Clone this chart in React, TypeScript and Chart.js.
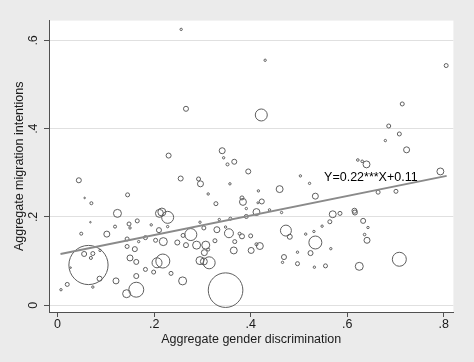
import { useEffect, useRef } from "react";
import { Chart, registerables } from "chart.js";

Chart.register(...registerables);

// Country-level observations (x = gender discrimination, y = migration intentions, weight = bubble weight)
const xValues = [
  0.256, 0.430, 0.805, 0.714, 0.266, 0.422, 0.686, 0.708, 0.679, 0.723,
  0.230, 0.341, 0.344, 0.352, 0.366, 0.395, 0.622, 0.631, 0.640, 0.793,
  0.044, 0.255, 0.292, 0.296, 0.357, 0.503, 0.522, 0.460, 0.416, 0.312,
  0.145, 0.070, 0.056, 0.328, 0.382, 0.384, 0.423, 0.415, 0.391, 0.412,
  0.439, 0.464, 0.534, 0.664, 0.701, 0.570, 0.585, 0.615, 0.616, 0.633,
  0.564, 0.548, 0.643, 0.636, 0.641, 0.534, 0.566, 0.555, 0.625, 0.708,
  0.531, 0.524, 0.532, 0.514, 0.497, 0.469, 0.466, 0.497, 0.473, 0.481,
  0.124, 0.211, 0.216, 0.228, 0.148, 0.165, 0.150, 0.068, 0.119, 0.049,
  0.102, 0.194, 0.210, 0.228, 0.144, 0.168, 0.182, 0.203, 0.219, 0.248,
  0.260, 0.266, 0.144, 0.160, 0.055, 0.073, 0.069, 0.088, 0.064, 0.150,
  0.163, 0.206, 0.218, 0.182, 0.199, 0.235, 0.163, 0.121, 0.259, 0.087,
  0.020, 0.007, 0.073, 0.163, 0.143, 0.027, 0.295, 0.335, 0.358, 0.391,
  0.276, 0.303, 0.330, 0.355, 0.348, 0.377, 0.382, 0.400, 0.367, 0.288,
  0.307, 0.326, 0.365, 0.401, 0.412, 0.419, 0.304, 0.312, 0.295, 0.303,
  0.314, 0.348,
];
const yValues = [
  0.625, 0.555, 0.543, 0.456, 0.445, 0.431, 0.406, 0.388, 0.373, 0.352,
  0.339, 0.350, 0.334, 0.319, 0.325, 0.303, 0.329, 0.326, 0.319, 0.303,
  0.283, 0.287, 0.286, 0.275, 0.275, 0.293, 0.276, 0.263, 0.259, 0.252,
  0.250, 0.231, 0.243, 0.230, 0.243, 0.234, 0.235, 0.232, 0.219, 0.211,
  0.216, 0.210, 0.247, 0.256, 0.258, 0.206, 0.208, 0.214, 0.210, 0.191,
  0.189, 0.179, 0.176, 0.160, 0.147, 0.142, 0.128, 0.089, 0.088, 0.104,
  0.167, 0.118, 0.086, 0.161, 0.120, 0.109, 0.097, 0.094, 0.169, 0.155,
  0.208, 0.208, 0.211, 0.199, 0.184, 0.191, 0.175, 0.188, 0.178, 0.162,
  0.161, 0.182, 0.170, 0.178, 0.150, 0.144, 0.153, 0.147, 0.144, 0.142,
  0.158, 0.136, 0.133, 0.127, 0.116, 0.117, 0.107, 0.124, 0.091, 0.107,
  0.098, 0.096, 0.100, 0.081, 0.075, 0.072, 0.066, 0.055, 0.055, 0.060,
  0.047, 0.035, 0.041, 0.035, 0.026, 0.085, 0.188, 0.194, 0.196, 0.201,
  0.160, 0.175, 0.171, 0.163, 0.177, 0.162, 0.156, 0.157, 0.144, 0.136,
  0.136, 0.146, 0.124, 0.124, 0.138, 0.134, 0.119, 0.126, 0.101, 0.099,
  0.096, 0.034,
];
const weights = [
  1.4, 1.4, 4, 4, 6.3, 36, 4, 4, 1.4, 9,
  6.3, 9, 1.4, 2.3, 6.3, 6.3, 1.7, 1.7, 12, 12,
  6.3, 6.3, 4, 9, 1.4, 1.4, 1.4, 12, 1.4, 1.4,
  4, 2.3, 0.6, 4, 4, 12, 6.3, 1, 1.4, 12,
  1.4, 1.4, 9, 4, 4, 12, 4, 6.3, 6.3, 6.3,
  4, 1.4, 1.4, 1.7, 9, 42, 1.4, 4, 16, 49,
  1.4, 6.3, 1.4, 1.4, 1.4, 6.3, 1.4, 4, 30, 6.3,
  16, 16, 16, 36, 4, 4, 1.4, 0.6, 2.3, 2.3,
  9, 1.4, 6.3, 1.4, 4, 1.4, 4, 4, 16, 6.3,
  4, 6.3, 4, 6.3, 6.3, 4, 2.3, 1.4, 384, 9,
  6.3, 25, 49, 4, 4, 4, 6.3, 9, 16, 6.3,
  4, 1.4, 1.4, 56, 16, 0.6, 1.4, 1.4, 2.3, 4,
  36, 4, 9, 20, 1.4, 2.3, 6.3, 4, 4, 16,
  16, 4, 12, 9, 2.3, 12, 9, 2.3, 16, 12,
  36, 299,
];

// Fitted regression line end points
const fitX = [0.006, 0.806];
const fitY = [0.116, 0.293];

const xTicks = [0, 0.2, 0.4, 0.6, 0.8];
const xTickLabels = ["0", ".2", ".4", ".6", ".8"];
const yTicks = [0, 0.2, 0.4, 0.6];
const yTickLabels = ["0", ".2", ".4", ".6"];

const xTitle = "Aggregate gender discrimination";
const yTitle = "Aggregate migration intentions";
const equation = "Y=0.22***X+0.11";
const equationAt = { x: 0.649, y: 0.2805 };

const FONT = "'Liberation Sans', Arial, Helvetica, sans-serif";
const TEXT = "#1a1a1a";
const AXIS = "#505050";

function lookup(values: number[], labels: string[], v: number) {
  const i = values.findIndex((t) => Math.abs(t - v) < 1e-9);
  return i >= 0 ? labels[i] : "";
}

export default function App() {
  const ref = useRef<HTMLCanvasElement>(null);

  useEffect(() => {
    if (!ref.current) return;

    const bgPlugin = {
      id: "bg",
      beforeDraw(chart: any) {
        const { ctx, chartArea: a, width, height } = chart;
        ctx.save();
        ctx.fillStyle = "#ebebeb";
        ctx.fillRect(0, 0, width, height);
        ctx.fillStyle = "#ffffff";
        ctx.fillRect(a.left, a.top, a.right - a.left, a.bottom - a.top);
        ctx.restore();
      },
    };

    const eqPlugin = {
      id: "eq",
      afterDatasetsDraw(chart: any) {
        const { ctx, scales } = chart;
        ctx.save();
        ctx.font = `12.5px ${FONT}`;
        ctx.fillStyle = "#000";
        ctx.textAlign = "center";
        ctx.textBaseline = "alphabetic";
        ctx.fillText(
          equation,
          scales.x.getPixelForValue(equationAt.x),
          scales.y.getPixelForValue(equationAt.y)
        );
        ctx.restore();
      },
    };

    const chart = new Chart(ref.current, {
      type: "bubble",
      data: {
        datasets: [
          {
            type: "line",
            data: fitX.map((x, i) => ({ x, y: fitY[i] })),
            borderColor: "#8a8a8a",
            borderWidth: 2,
            pointRadius: 0,
            fill: false,
            order: 0,
          } as any,
          {
            type: "bubble",
            data: xValues.map((x, i) => ({ x, y: yValues[i], r: Math.sqrt(weights[i]) })),
            backgroundColor: "rgba(0,0,0,0)",
            borderColor: "#5f5f5f",
            borderWidth: 1,
            order: 1,
          },
        ],
      },
      options: {
        responsive: false,
        animation: false,
        devicePixelRatio: 1,
        events: [],
        layout: { padding: { top: 13, right: 16, left: 0, bottom: 0 } },
        plugins: {
          legend: { display: false },
          tooltip: { enabled: false },
        },
        scales: {
          x: {
            type: "linear",
            min: -0.0178,
            max: 0.82,
            afterBuildTicks: (s: any) => {
              s.ticks = xTicks.map((v) => ({ value: v }));
            },
            afterFit: (s: any) => {
              s.height = 50;
            },
            ticks: {
              autoSkip: false,
              maxRotation: 0,
              minRotation: 0,
              padding: 0,
              color: TEXT,
              font: { family: FONT, size: 12.5 },
              callback: (v: any) => lookup(xTicks, xTickLabels, Number(v)),
            },
            grid: {
              drawOnChartArea: false,
              drawTicks: true,
              tickLength: 5,
              tickColor: AXIS,
              tickWidth: 1,
            },
            border: { display: true, color: AXIS, width: 1 },
            title: {
              display: true,
              text: xTitle,
              color: TEXT,
              font: { family: FONT, size: 12.5 },
              padding: { top: 0, bottom: 15.3 },
            },
          },
          y: {
            type: "linear",
            min: -0.0155,
            max: 0.6449,
            afterBuildTicks: (s: any) => {
              s.ticks = yTicks.map((v) => ({ value: v }));
            },
            afterFit: (s: any) => {
              s.width = 49;
            },
            ticks: {
              autoSkip: false,
              minRotation: 90,
              maxRotation: 90,
              crossAlign: "center",
              padding: 5,
              color: TEXT,
              font: { family: FONT, size: 12.5 },
              callback: (v: any) => lookup(yTicks, yTickLabels, Number(v)),
            },
            grid: {
              drawOnChartArea: true,
              color: "#e0e0e0",
              lineWidth: 1,
              drawTicks: true,
              tickLength: 5,
              tickColor: AXIS,
              tickWidth: 1,
            },
            border: { display: true, color: AXIS, width: 1 },
            title: {
              display: true,
              text: yTitle,
              color: TEXT,
              font: { family: FONT, size: 12.5 },
              padding: { top: 12.5, bottom: 0 },
            },
          },
        },
      } as any,
      plugins: [bgPlugin, eqPlugin],
    });

    return () => chart.destroy();
  }, []);

  return (
    <div style={{ position: "fixed", left: 0, top: 0, width: 474, height: 362 }}>
      <canvas ref={ref} width={474} height={362} style={{ display: "block" }} />
    </div>
  );
}
